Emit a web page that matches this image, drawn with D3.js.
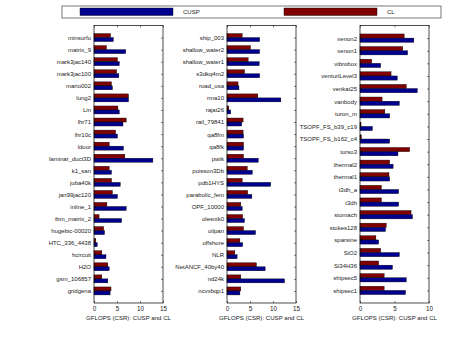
<!DOCTYPE html>
<html><head><meta charset="utf-8">
<script src="https://cdn.jsdelivr.net/npm/d3@7"></script>
<style>body{margin:0;background:#fff;}svg{display:block;}</style>
</head><body>
<svg id="c" width="474" height="341"></svg>
<script>
const seriesNames = ["CUSP", "CL"];
const cats1 = ["minsurfo","matrix_9","mark3jac140","mark3jac100","mario002","lung2","Lin","lhr71","lhr10c","ldoor","laminar_duct3D","k1_san","juba40k","jan99jac120","inline_1","ibm_matrix_2","hugebic-00020","HTC_336_4438","hcircuit","H2O","gsm_106857","gridgena"];
const cusp1 = [4.2,6.9,5.5,5.4,4.0,7.5,5.5,6.3,5.1,6.4,12.8,3.8,5.7,5.1,7.0,6.0,2.3,0.7,2.6,3.3,3.0,3.5];
const cl1   = [3.6,2.7,5.1,4.9,3.8,7.5,5.2,7.0,4.7,3.3,6.7,3.3,3.8,4.0,2.8,1.1,2.1,0.4,1.7,3.0,1.7,3.7];
const cats2 = ["ship_003","shallow_water2","shallow_water1","s3dkq4m2","road_usa","rma10","rajat26","rail_79841","qa8fm","qa8fk","pwtk","poisson3Db","pdb1HYS","parabolic_fem","OPF_10000","olesnik0","oilpan","offshore","NLR","NetANCF_40by40","nd24k","ncvxbqp1"];
const cusp2 = [7.1,7.1,7.0,7.1,2.6,11.7,0.8,3.2,3.6,3.6,6.8,5.5,9.5,5.4,3.3,3.8,6.2,3.4,2.2,8.3,12.5,2.8];
const cl2   = [3.3,5.1,4.6,3.8,2.4,6.7,0.4,3.5,3.5,3.6,3.6,4.4,3.3,4.5,3.0,3.4,3.6,2.8,1.7,6.4,3.0,3.0];
const cats3 = ["xenon2","xenon1","vibrobox","venturiLevel3","venkat25","vanbody","turon_m","TSOPF_FS_b39_c19","TSOPF_FS_b162_c4","torso3","thermal2","thermal1","t3dh_a","t3dh","stomach","stokes128","sparsine","SiO2","Si34H36","shipsec5","shipsec1"];
const cusp3 = [7.8,6.9,3.0,5.4,8.3,5.7,4.3,1.8,4.3,5.5,4.8,4.3,5.6,5.6,7.6,3.7,2.7,5.7,4.7,6.7,6.6];
const cl3   = [6.4,6.2,1.7,4.5,6.7,3.2,3.6,0.15,0.2,7.2,4.3,4.2,3.1,3.1,7.4,3.8,2.3,3.0,2.7,3.5,3.5];
const xTicks1 = [0,5,10,15], xTicks2 = [0,5,10,15], xTicks3 = [0,5,10];
const xlabel = "GFLOPS (CSR): CUSP and CL";

const BLUE = "#00008f", RED = "#800000";
const FONT = "Liberation Sans, Arial, sans-serif";
const svg = d3.select("#c");
const plotTop = 25.5, plotBottom = 303;

const panels = [
  {cats: cats1, cusp: cusp1, cl: cl1, ticks: xTicks1, x0: 94, x1: 163, max: 15},
  {cats: cats2, cusp: cusp2, cl: cl2, ticks: xTicks2, x0: 227, x1: 296, max: 15},
  {cats: cats3, cusp: cusp3, cl: cl3, ticks: xTicks3, x0: 360, x1: 429, max: 10}
];

panels.forEach(p => {
  const n = p.cats.length;
  const x = d3.scaleLinear().domain([0, p.max]).range([p.x0, p.x1]);
  const y = d3.scaleLinear().domain([0, n + 1]).range([plotTop, plotBottom]);
  const g = svg.append("g");
  const bw = 0.33;
  p.cats.forEach((c, i) => {
    const k = i + 1;
    g.append("rect").attr("x", x(0)).attr("y", y(k - bw))
      .attr("width", x(p.cl[i]) - x(0)).attr("height", y(k) - y(k - bw))
      .attr("fill", RED).attr("stroke", "#000").attr("stroke-width", 0.4);
    g.append("rect").attr("x", x(0)).attr("y", y(k))
      .attr("width", x(p.cusp[i]) - x(0)).attr("height", y(k + bw) - y(k))
      .attr("fill", BLUE).attr("stroke", "#000").attr("stroke-width", 0.4);
  });
  const yAxis = d3.axisLeft(y).tickValues(d3.range(1, n + 1))
    .tickFormat(d => p.cats[d - 1]).tickSizeInner(-2).tickSizeOuter(0).tickPadding(3);
  const ya = g.append("g").attr("transform", `translate(${p.x0},0)`).call(yAxis);
  ya.select(".domain").remove();
  ya.selectAll("text").attr("font-family", FONT).attr("font-size", 6.0).attr("fill", "#222");
  ya.selectAll("line").attr("stroke", "#000").attr("stroke-width", 0.5);
  const yR = d3.axisRight(y).tickValues(d3.range(1, n + 1)).tickFormat("").tickSizeInner(-2).tickSizeOuter(0);
  const yr = g.append("g").attr("transform", `translate(${p.x1},0)`).call(yR);
  yr.select(".domain").remove();
  yr.selectAll("line").attr("stroke", "#000").attr("stroke-width", 0.5);
  const xAxis = d3.axisBottom(x).tickValues(p.ticks).tickSizeInner(-2).tickSizeOuter(0).tickPadding(4);
  const xa = g.append("g").attr("transform", `translate(0,${plotBottom})`).call(xAxis);
  xa.select(".domain").remove();
  xa.selectAll("text").attr("font-family", FONT).attr("font-size", 6.3).attr("fill", "#222");
  xa.selectAll("line").attr("stroke", "#000").attr("stroke-width", 0.5);
  const xT = d3.axisTop(x).tickValues(p.ticks).tickFormat("").tickSizeInner(-2).tickSizeOuter(0);
  const xt = g.append("g").attr("transform", `translate(0,${plotTop})`).call(xT);
  xt.select(".domain").remove();
  xt.selectAll("line").attr("stroke", "#000").attr("stroke-width", 0.5);
  g.append("rect").attr("x", p.x0).attr("y", plotTop).attr("width", p.x1 - p.x0).attr("height", plotBottom - plotTop)
    .attr("fill", "none").attr("stroke", "#000").attr("stroke-width", 0.7);
  g.append("text").attr("x", (p.x0 + p.x1) / 2).attr("y", 320).attr("text-anchor", "middle")
    .attr("font-family", FONT).attr("font-size", 6.1).attr("fill", "#222").text(xlabel);
});

const lg = svg.append("g");
lg.append("rect").attr("x", 62).attr("y", 6).attr("width", 379).attr("height", 12)
  .attr("fill", "#fff").attr("stroke", "#555").attr("stroke-width", 0.8);
const legendItems = [{name: seriesNames[0], color: BLUE, sx: 80, tx: 183}, {name: seriesNames[1], color: RED, sx: 284, tx: 387}];
legendItems.forEach(it => {
  lg.append("rect").attr("x", it.sx).attr("y", 8).attr("width", 93).attr("height", 7.5)
    .attr("fill", it.color).attr("stroke", "#000").attr("stroke-width", 0.4);
  lg.append("text").attr("x", it.tx).attr("y", 14.3).attr("font-family", FONT).attr("font-size", 6.0)
    .attr("fill", "#222").text(it.name);
});
</script>
</body></html>
